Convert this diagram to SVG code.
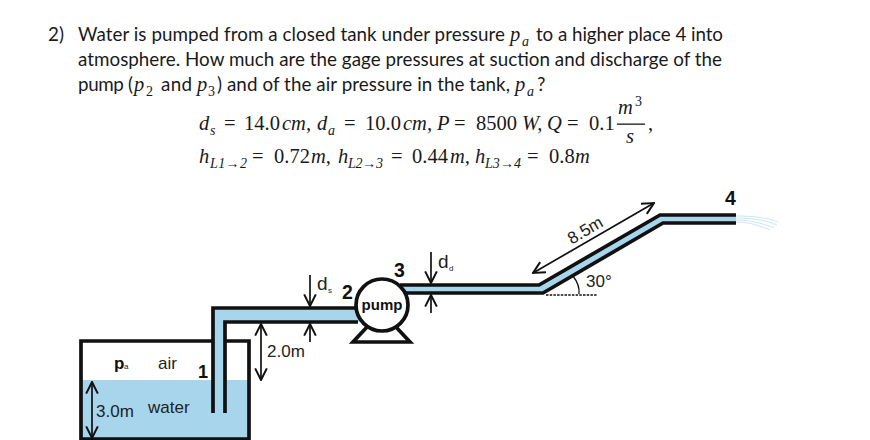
<svg xmlns="http://www.w3.org/2000/svg" width="870" height="440" viewBox="0 0 870 440">
<style>
.b{font-family:"Lato","Liberation Sans",sans-serif;font-size:18.8px;fill:#1a1a1a}
.m{font-family:"Liberation Serif",serif;font-size:20.5px;fill:#1a1a1a}
.i{font-style:italic}
.s{font-size:14px}
.l{font-family:"Liberation Sans",sans-serif;font-size:17px;fill:#222}
.q{font-family:"Liberation Sans",sans-serif;font-size:19px;fill:#222}
.n{font-family:"Liberation Sans",sans-serif;font-size:19.5px;font-weight:bold;fill:#111}
.w{fill:#a6d5ec;stroke:none}
.p{fill:none;stroke:#111;stroke-width:3.7}
.d{fill:none;stroke:#111;stroke-width:1.7;marker-end:url(#h)}
.dd{marker-start:url(#h)}
.t{font-family:"Liberation Sans",sans-serif;font-size:8px;fill:#222}
</style>
<defs>
<marker id="h" markerUnits="userSpaceOnUse" markerWidth="14" markerHeight="14" refX="11" refY="6" orient="auto-start-reverse" viewBox="0 0 12 12"><path d="M1 1L11 6L1 11" fill="none" stroke="#111" stroke-width="1.7"/></marker>
</defs>
<rect width="870" height="440" fill="#fff"/>
<g id="question">
<text class="b" x="48" y="41">2)</text>
<text class="b" x="78" y="41" textLength="427">Water is pumped from a closed tank under pressure</text>
<text class="m i" x="510" y="41">p</text><text class="m i s" x="522" y="46">a</text>
<text class="b" x="536" y="41" textLength="187">to a higher place 4 into</text>
<text class="b" x="78" y="66" textLength="644">atmosphere. How much are the gage pressures at suction and discharge of the</text>
<text class="b" x="78" y="91" textLength="55">pump (</text>
<text class="m i" x="134" y="91">p</text><text class="m s" x="146" y="96">2</text>
<text class="b" x="161" y="91" textLength="31">and</text>
<text class="m i" x="197" y="91">p</text><text class="m s" x="208" y="96">3</text>
<text class="b" x="217" y="91" textLength="293">) and of the air pressure in the tank,</text>
<text class="m i" x="515" y="91">p</text><text class="m i s" x="527" y="96">a</text>
<text class="b" x="537" y="91">?</text>
</g>
<g id="givens">
<text class="m i" x="199" y="130">d</text><text class="m i s" x="210" y="135">s</text>
<text class="m" x="224" y="130">=</text><text class="m" x="244" y="130">14.0</text><text class="m i" x="282" y="130">cm,</text>
<text class="m i" x="317" y="130">d</text><text class="m i s" x="328" y="135">a</text>
<text class="m" x="344" y="130">=</text><text class="m" x="365" y="130">10.0</text><text class="m i" x="403" y="130">cm,</text>
<text class="m i" x="437" y="130">P</text><text class="m" x="454" y="130">=</text><text class="m" x="476" y="130">8500</text><text class="m i" x="522" y="130">W,</text>
<text class="m i" x="547" y="130">Q</text><text class="m" x="567" y="130">=</text><text class="m" x="589" y="130">0.1</text>
<text class="m i" x="618" y="114">m</text><text class="m s" x="635" y="106">3</text>
<rect x="617" y="123.500" width="28" height="1.300" fill="#1a1a1a"/>
<text class="m i" x="626" y="143">s</text><text class="m" x="648" y="130">,</text>
<text class="m i" x="199" y="163">h</text><text class="m i s" x="210" y="168" textLength="37">L1→2</text>
<text class="m" x="252" y="163">=</text><text class="m" x="274" y="163">0.72</text><text class="m i" x="311" y="163">m,</text>
<text class="m i" x="338" y="163">h</text><text class="m i s" x="348" y="168" textLength="35">L2→3</text>
<text class="m" x="391" y="163">=</text><text class="m" x="412" y="163">0.44</text><text class="m i" x="450" y="163">m,</text>
<text class="m i" x="475" y="163">h</text><text class="m i s" x="485" y="168" textLength="36">L3→4</text>
<text class="m" x="527" y="163">=</text><text class="m" x="549" y="163">0.8</text><text class="m i" x="575" y="163">m</text>
</g>
<g id="tank">
<rect class="w" x="81" y="380" width="168" height="60"/>
<path class="p" d="M213 341H81V440M225 341H249V440M81 439H249"/>
<text x="114" y="369" font-family="Liberation Sans,sans-serif" font-size="17" font-weight="bold" fill="#111">p</text>
<text class="t" x="124" y="369">a</text>
<text class="l" x="158" y="369">air</text>
<text class="n" x="198" y="378" style="font-size:18px">1</text>
<text class="l" x="148" y="413">water</text>
</g>
<g id="connectors">
<path class="w" d="M213 413V307H362V322H225V413Z"/>
<path class="p" d="M213 413V308H360M225 413V322H358"/>
<path class="w" d="M400 285H539L660 215H736V222H663L543 292H400Z"/>
<path class="p" d="M400 285H539L660 215H736M402 293H543L663 223H736"/>
<g fill="none" stroke="#bfe0f0" stroke-width="0.8"><path d="M736 216C755 216 768 218 778 222"/><path d="M736 218C755 218 768 221 777 225"/><path d="M736 220C752 220 764 224 774 228"/><path d="M736 222C750 222 760 226 770 230"/></g>
</g>
<g id="pump">
<path d="M367 327L353 342H410L396 327Z" fill="#fff" stroke="#111" stroke-width="3.700"/>
<circle cx="382" cy="305" r="26" fill="#fff" stroke="#111" stroke-width="3.700"/>
<text x="382" y="310" text-anchor="middle" font-family="Liberation Sans,sans-serif" font-size="15" font-weight="bold" fill="#111">pump</text>
</g>
<g id="dimensions">
<path class="d dd" d="M92 382V438"/>
<text class="l" x="96" y="417">3.0m</text>
<path class="d dd" d="M261 324V380"/>
<text class="l" x="267" y="357">2.0m</text>
<path class="d" d="M310 342V324"/>
<path class="d" d="M310 275V306"/>
<text class="q" x="317" y="290">d</text><text class="t" x="328" y="293">s</text>
<path class="d" d="M431 252V283"/>
<text class="q" x="438" y="268">d</text><text class="t" x="449" y="271">d</text>
<path class="d" d="M431 313V295"/>
<path class="d dd" d="M533 273L654 203"/>
<text class="l" transform="translate(585 230) rotate(-30)" text-anchor="middle" y="6">8.5m</text>
<path d="M573 276Q580 285 579 294" fill="none" stroke="#111" stroke-width="1.300"/>
<path d="M546 295H597" fill="none" stroke="#111" stroke-width="1.300" stroke-dasharray="2.500 1.200"/>
<text class="l" x="586" y="287">30°</text>
</g>
<g id="points">
<text class="n" x="342" y="299">2</text>
<text class="n" x="394" y="277">3</text>
<text class="n" x="725" y="205">4</text>
</g>
</svg>
